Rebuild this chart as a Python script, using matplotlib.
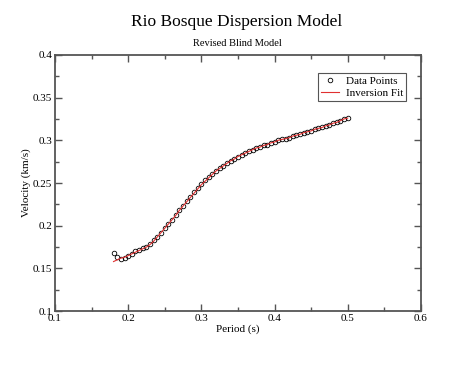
import matplotlib.pyplot as plt
from matplotlib.ticker import MultipleLocator

# Period (s) of the measured points
period = [0.180, 0.185, 0.190, 0.195, 0.200, 0.205, 0.210, 0.215, 0.220, 0.225,
          0.230, 0.235, 0.240, 0.245, 0.250, 0.255, 0.260, 0.265, 0.270, 0.275,
          0.280, 0.285, 0.290, 0.295, 0.300, 0.305, 0.310, 0.315, 0.320, 0.325,
          0.330, 0.335, 0.340, 0.345, 0.350, 0.355, 0.360, 0.365, 0.370, 0.375,
          0.380, 0.385, 0.390, 0.395, 0.400, 0.405, 0.410, 0.415, 0.420, 0.425,
          0.430, 0.435, 0.440, 0.445, 0.450, 0.455, 0.460, 0.465, 0.470, 0.475,
          0.480, 0.485, 0.490, 0.495, 0.500]

# measured phase velocity (km/s)
velocity = [0.168, 0.163, 0.161, 0.162, 0.165, 0.167, 0.170, 0.172, 0.174, 0.175,
            0.178, 0.183, 0.187, 0.192, 0.197, 0.202, 0.207, 0.212, 0.218, 0.223,
            0.229, 0.234, 0.239, 0.244, 0.249, 0.253, 0.257, 0.261, 0.264, 0.267,
            0.270, 0.273, 0.276, 0.278, 0.281, 0.283, 0.285, 0.287, 0.289, 0.291,
            0.292, 0.294, 0.295, 0.297, 0.298, 0.300, 0.301, 0.302, 0.303, 0.305,
            0.306, 0.307, 0.309, 0.310, 0.311, 0.313, 0.314, 0.315, 0.317, 0.318,
            0.320, 0.321, 0.323, 0.325, 0.326]

# velocity from the inverted model
fit = [0.158, 0.160, 0.162, 0.163, 0.165, 0.167, 0.169, 0.171, 0.173, 0.175,
       0.178, 0.182, 0.187, 0.192, 0.197, 0.202, 0.207, 0.212, 0.218, 0.223,
       0.228, 0.233, 0.238, 0.243, 0.248, 0.252, 0.256, 0.260, 0.264, 0.267,
       0.270, 0.273, 0.276, 0.278, 0.281, 0.283, 0.285, 0.287, 0.289, 0.291,
       0.292, 0.294, 0.295, 0.297, 0.298, 0.300, 0.301, 0.302, 0.303, 0.305,
       0.306, 0.307, 0.309, 0.310, 0.311, 0.313, 0.314, 0.315, 0.317, 0.318,
       0.320, 0.321, 0.323, 0.325, 0.326]

plt.rcParams['font.family'] = ['Liberation Serif', 'DejaVu Serif']

fig = plt.figure(figsize=(4.74, 3.66), dpi=100)
ax = fig.add_axes([0.116, 0.150, 0.772, 0.700])

ax.plot(period, velocity, 'o', mfc='none', mec='black', mew=0.6, ms=3.3,
        label='Data Points')
ax.plot(period, fit, color='#e03030', lw=0.8, label='Inversion Fit')

ax.set_xlim(0.1, 0.6)
ax.set_ylim(0.1, 0.4)
ax.xaxis.set_major_locator(MultipleLocator(0.1))
ax.xaxis.set_minor_locator(MultipleLocator(0.05))
ax.yaxis.set_major_locator(MultipleLocator(0.05))
ax.yaxis.set_minor_locator(MultipleLocator(0.025))
ax.xaxis.set_major_formatter(lambda v, pos: '%g' % round(v, 3))
ax.yaxis.set_major_formatter(lambda v, pos: '%g' % round(v, 3))
ax.tick_params(which='both', direction='in', top=True, right=True,
               labelsize=8, color='#555555', pad=2)
ax.tick_params(which='major', length=5, width=1)
ax.tick_params(which='minor', length=3, width=1)
for s in ax.spines.values():
    s.set_linewidth(1.3)
    s.set_color('#555555')

ax.set_xlabel('Period (s)', fontsize=8, labelpad=1)
ax.set_ylabel('Velocity (km/s)', fontsize=8, labelpad=1)

fig.text(0.5, 0.94, 'Rio Bosque Dispersion Model', ha='center', va='center', fontsize=12.5)
fig.text(0.5, 0.88, 'Revised Blind Model', ha='center', va='center', fontsize=7.5)

leg = ax.legend(loc='upper right', bbox_to_anchor=(0.96, 0.93), fontsize=8,
                fancybox=False, framealpha=1, edgecolor='#555555',
                handlelength=1.6, borderpad=0.3, labelspacing=0.2,
                handletextpad=0.6, borderaxespad=0)
leg.get_frame().set_linewidth(0.8)

fig.savefig('out.png', dpi=100)
